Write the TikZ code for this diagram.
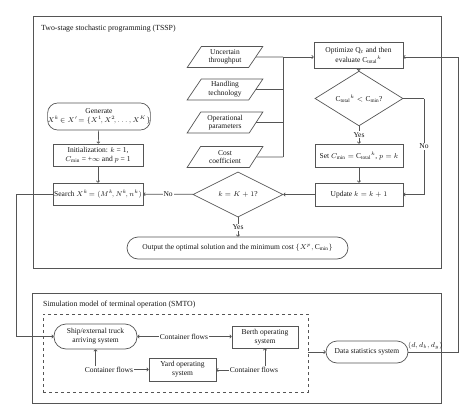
\documentclass[tikz,border=0pt]{standalone}
\usepackage{fontspec}
\setmainfont{Liberation Serif}
\usetikzlibrary{shapes.geometric,arrows.meta,calc}
\definecolor{ln}{RGB}{85,85,85}
\definecolor{tx}{RGB}{20,20,20}
\newcommand{\Ct}{\mathrm{C}_{\mathrm{total}}{}^{k}}
\begin{document}
\begin{tikzpicture}[x=1pt,y=-1pt,
  every node/.style={text=tx,font=\fontsize{7.5}{8.6}\selectfont,inner sep=1pt,align=center},
  box/.style={draw=ln,line width=0.7pt,rectangle},
  rbox/.style={draw=ln,line width=0.7pt,rectangle,rounded corners=11pt},
  para/.style={draw=ln,line width=0.7pt,trapezium,trapezium left angle=57,trapezium right angle=123,trapezium stretches=true,minimum width=76pt,minimum height=21pt,inner sep=0pt},
  dia/.style={draw=ln,line width=0.7pt,diamond,inner sep=0pt},
  frame/.style={draw=ln,line width=0.9pt,rectangle,inner sep=0pt},
  ttl/.style={font=\fontsize{7.8}{9}\selectfont,anchor=west,inner sep=0pt},
  con/.style={draw=ln,line width=0.7pt},
  arr/.style={con,-{To[length=2.2pt,width=3.8pt]}},
  lbl/.style={fill=white,inner sep=1pt}]
\useasboundingbox (0,0) rectangle (474,420);
% frames
\node[frame,minimum width=408pt,minimum height=252pt] (tssp) at (237,142) {};
\node[ttl] (tt1) at (41,29) {Two-stage stochastic programming (TSSP)};
\node[frame,minimum width=409pt,minimum height=110pt] (smto) at (236.5,348) {};
\node[ttl] (tt2) at (43,305) {Simulation model of terminal operation (SMTO)};
\node[draw=ln,line width=0.7pt,dashed,minimum width=265pt,minimum height=78pt,inner sep=0pt] (dash) at (175.5,353) {};
% TSSP nodes
\node[rbox,rounded corners=10pt,minimum width=102pt,minimum height=27pt,inner sep=0pt] (gen) at (99,116.5) {Generate\\$X^k\!\in X'\!=\{X^1\!,X^2\!,\ldots,X^K\}$};
\node[box,minimum width=90pt,minimum height=22pt] (init) at (98,155) {Initialization: $k$ = 1,\\$C_{\min}$ = +$\infty$ and $p$ = 1};
\node[box,minimum width=90pt,minimum height=22pt,inner sep=0pt] (search) at (98,194) {Search $X^k\!=(M^k\!,N^k\!,n^k)$};
\node[para] (p1) at (225,57) {Uncertain\\throughput};
\node[para] (p2) at (225,89.5) {Handling\\technology};
\node[para] (p3) at (225,122.5) {Operational\\parameters};
\node[para] (p4) at (225,157) {Cost\\coefficient};
\coordinate (bt) at (283,57);
\coordinate (bb) at (283,157);
\node[box,minimum width=89pt,minimum height=26pt,font=\fontsize{7.5}{9.5}\selectfont] (opt) at (358.5,55.5) {Optimize $\mathrm{Q}_t$ and then\\evaluate $\Ct$};
\node[dia,minimum width=88pt,minimum height=28pt] (d1) at (359,98.5) {$\Ct<\mathrm{C}_{\mathrm{min}}$?};
\node[box,minimum width=88pt,minimum height=23pt] (set) at (359,155.5) {Set $C_{\min}=\Ct$, $p=k$};
\node[box,minimum width=88pt,minimum height=23pt] (upd) at (359,194.5) {Update $k=k+1$};
\node[dia,minimum width=90pt,minimum height=28pt] (d2) at (238,194.5) {$k=K+1$?};
\node[rbox,minimum width=221pt,minimum height=22pt] (out) at (237.5,248) {Output the optimal solution and the minimum cost $\{X^p,\mathrm{C}_{\mathrm{min}}\}$};
% SMTO nodes
\node[rbox,rounded corners=12pt,minimum width=83pt,minimum height=25pt] (ship) at (95.5,336.5) {Ship/external truck\\arriving system};
\node[box,minimum width=66pt,minimum height=22pt] (berth) at (265,337) {Berth operating\\system};
\node[box,minimum width=67pt,minimum height=23pt] (yard) at (182.5,369.5) {Yard operating\\system};
\node (cf1) at (184,336.5) {Container flows};
\node (cf2) at (109,369.5) {Container flows};
\node (cf3) at (254,370) {Container flows};
\node[rbox,minimum width=82pt,minimum height=22pt] (data) at (367,352) {Data statistics system};
\node[anchor=south west,inner sep=0pt] (dv) at (408,350) {$(d,d_b,d_y)$};
\coordinate (rr) at (458,352);
\coordinate (ll) at (16,194);
\coordinate (nr) at (424,98.5);
% TSSP connectors
\draw[arr] (gen) -- (init);
\draw[arr] (init) -- (search);
\draw[con] (p1.east) -- (bt);
\draw[con] (p2.east) -- (p2.east -| bt);
\draw[con] (p3.east) -- (p3.east -| bt);
\draw[con] (p4.east) -- (bb);
\draw[con] (bt) -- (bb);
\draw[arr] (bt) -- (bt -| opt.west);
\draw[arr] (opt) -- (d1);
\draw[arr] (d1) -- node[lbl,pos=0.5] (yes1) {Yes} (set);
\draw[arr] (set) -- (upd);
\draw[con] (d1.east) -- (nr);
\draw[arr] (nr) -- node[lbl,pos=0.5] (no1) {No} (nr |- upd.east) -- (upd.east);
\draw[arr] (upd) -- (d2);
\draw[arr] (d2) -- node[lbl,pos=0.5] (no2) {No} (search);
\draw[arr] (d2) -- node[lbl,pos=0.5] (yes2) {Yes} (d2 |- out.north);
\draw[arr] (search.west) -- (ll) -- (ll |- ship.west) -- (ship.west);
\draw[arr] (data.east) -- (rr) -- (rr |- bt) -- (bt -| opt.east);
% SMTO connectors
\draw[arr] (cf1.west) -- (ship.east |- cf1.west);
\draw[arr] (cf1.east) -- (berth.west |- cf1.east);
\draw[arr] (cf2.east) -- (yard.west |- cf2.east);
\draw[arr] (cf2.north -| ship.south) -- (ship.south);
\draw[arr] (cf3.west) -- (yard.east |- cf3.west);
\draw[arr] (cf3.north -| berth.south) -- (berth.south);
\draw[arr] (dash.east |- data.west) -- (data.west);
\end{tikzpicture}
\end{document}
